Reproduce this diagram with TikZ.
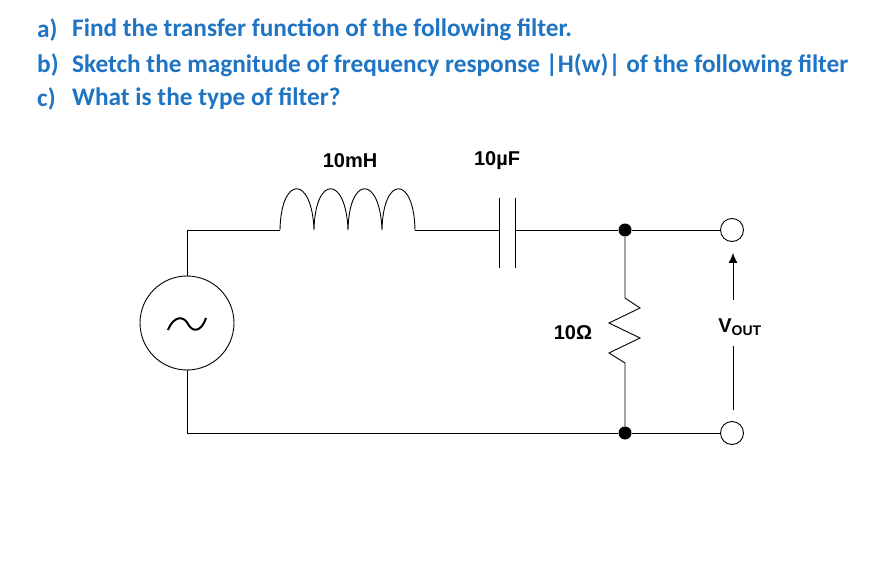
\documentclass[tikz,border=0pt]{standalone}
\usepackage{fontspec}
\usetikzlibrary{arrows.meta}
\setmainfont{Liberation Sans}
\newfontfamily\carl{Carlito}
\definecolor{qblue}{HTML}{1F74C4}
\begin{document}
\begin{tikzpicture}[x=1pt,y=-1pt,
  wire/.style={line width=0.9pt},
  lbl/.style={font=\fontsize{20}{24}\selectfont\bfseries},
  qline/.style={anchor=west,text=qblue,font=\carl\fontsize{25.3}{30}\selectfont\bfseries,inner sep=0}]
\useasboundingbox (0,0) rectangle (876,564);
\node[qline] (qa) at (37,30) {a)};
\node[qline] (qat) at (72,30) {Find the transfer function of the following filter.};
\node[qline] (qb) at (37,65) {b)};
\node[qline] (qbt) at (72,65) {Sketch the magnitude of frequency response |H(w)| of the following filter};
\node[qline] (qc) at (37,99) {c)};
\node[qline] (qct) at (72,99) {What is the type of filter?};
% source
\node[circle,draw,line width=0.9pt,minimum size=94pt,inner sep=0] (src) at (187,323) {};
\draw[line width=2pt] (168,330) .. controls (174,315) and (184,316) .. (188,324) .. controls (192,332) and (201,333) .. (206,318);
\coordinate (tl) at (187,230);
\coordinate (bl) at (187,433);
\coordinate (l1) at (280,230);
\coordinate (l2) at (415,230);
\coordinate (c1) at (499,230);
\coordinate (c2) at (515,230);
\node[circle,fill,inner sep=0,minimum size=13pt] (dt) at (625,230) {};
\node[circle,fill,inner sep=0,minimum size=13pt] (db) at (625,433) {};
\node[circle,draw,line width=0.9pt,inner sep=0,minimum size=23pt] (ot) at (732,230) {};
\node[circle,draw,line width=0.9pt,inner sep=0,minimum size=23pt] (ob) at (732,433) {};
\draw[wire] (src.north) -- (tl) -- (l1);
\draw[wire] (src.south) -- (bl) -- (db) -- (ob);
% inductor
\draw[wire] (l1) .. controls (281,175) and (312,175) .. (314,230)
  .. controls (315,175) and (346,175) .. (348,230)
  .. controls (349,175) and (380,175) .. (382,230)
  .. controls (383,175) and (414,175) .. (415,230);
\draw[wire] (l2) -- (c1);
\draw[wire] (499,198) -- (499,268);
\draw[wire] (515,198) -- (515,268);
\draw[wire] (c2) -- (dt) -- (ot);
% resistor
\draw[wire] (dt) -- (625,298) -- (640,308) -- (609,323) -- (640,338) -- (609,353) -- (625,363) -- (db);
% vout
\coordinate (a1) at (733,300);
\coordinate (a2) at (733,253);
\draw[wire,-{Latex[length=10pt,width=9pt]}] (a1) -- (a2);
\draw[wire] (733,346) -- (733,410);
\node[lbl] (vout) at (740,327) {V\textsubscript{OUT}};
\node[lbl] (rl) at (573,333) {10Ω};
\node[lbl] (ll) at (350,161) {10mH};
\node[lbl] (cl) at (497,161) {10µF};
\end{tikzpicture}
\end{document}
